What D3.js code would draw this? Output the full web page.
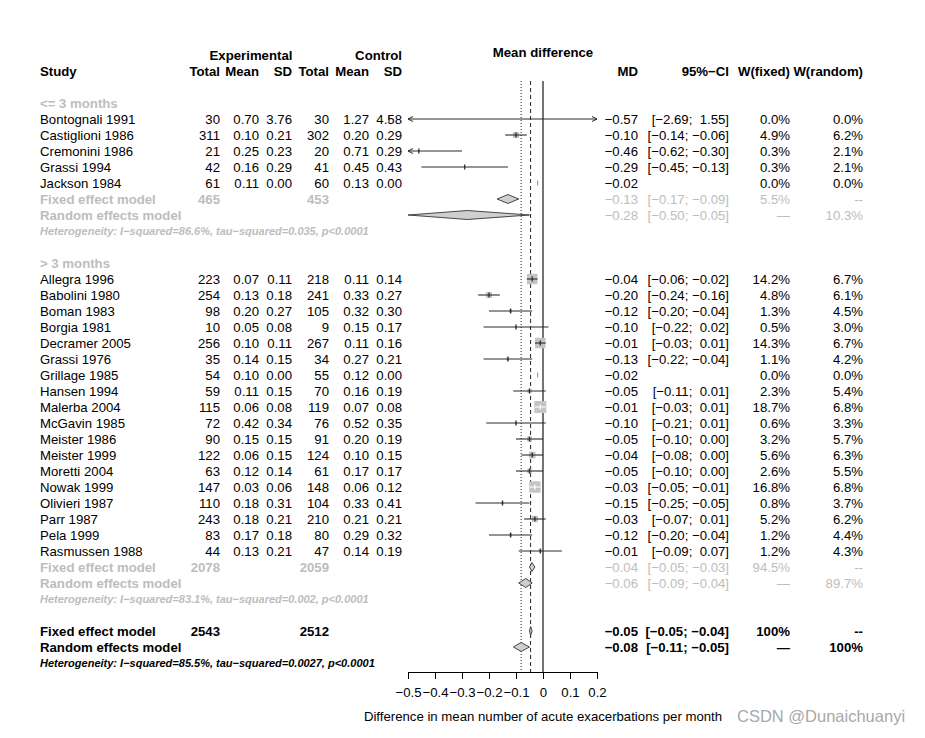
<!DOCTYPE html>
<html><head><meta charset="utf-8">
<script src="https://cdn.jsdelivr.net/npm/d3@7"></script>
<style>
body{margin:0;background:#fff;}
svg text{font-family:"Liberation Sans",Arial,Helvetica,sans-serif;font-size:13.2px;white-space:pre;}
</style></head>
<body><svg id="c" width="925" height="738"></svg>
<script>
// ---------------- data ----------------
const groupLabels = ["<= 3 months", "> 3 months"];
const studyNames = ["Bontognali 1991","Castiglioni 1986","Cremonini 1986","Grassi 1994","Jackson 1984",
  "Allegra 1996","Babolini 1980","Boman 1983","Borgia 1981","Decramer 2005","Grassi 1976","Grillage 1985",
  "Hansen 1994","Malerba 2004","McGavin 1985","Meister 1986","Meister 1999","Moretti 2004","Nowak 1999",
  "Olivieri 1987","Parr 1987","Pela 1999","Rasmussen 1988"];
const studyGroup = [0,0,0,0,0, 1,1,1,1,1,1,1,1,1,1,1,1,1,1,1,1,1,1];
const expTotal = [30,311,21,42,61, 223,254,98,10,256,35,54,59,115,72,90,122,63,147,110,243,83,44];
const expMean  = [0.70,0.10,0.25,0.16,0.11, 0.07,0.13,0.20,0.05,0.10,0.14,0.10,0.11,0.06,0.42,0.15,0.06,0.12,0.03,0.18,0.18,0.17,0.13];
const expSD    = [3.76,0.21,0.23,0.29,0.00, 0.11,0.18,0.27,0.08,0.11,0.15,0.00,0.15,0.08,0.34,0.15,0.15,0.14,0.06,0.31,0.21,0.18,0.21];
const ctlTotal = [30,302,20,41,60, 218,241,105,9,267,34,55,70,119,76,91,124,61,148,104,210,80,47];
const ctlMean  = [1.27,0.20,0.71,0.45,0.13, 0.11,0.33,0.32,0.15,0.11,0.27,0.12,0.16,0.07,0.52,0.20,0.10,0.17,0.06,0.33,0.21,0.29,0.14];
const ctlSD    = [4.58,0.29,0.29,0.43,0.00, 0.14,0.27,0.30,0.17,0.16,0.21,0.00,0.19,0.08,0.35,0.19,0.15,0.17,0.12,0.41,0.21,0.32,0.19];
const md       = [-0.57,-0.10,-0.46,-0.29,-0.02, -0.04,-0.20,-0.12,-0.10,-0.01,-0.13,-0.02,-0.05,-0.01,-0.10,-0.05,-0.04,-0.05,-0.03,-0.15,-0.03,-0.12,-0.01];
const ciLow    = [-2.69,-0.14,-0.62,-0.45,null, -0.06,-0.24,-0.20,-0.22,-0.03,-0.22,null,-0.11,-0.03,-0.21,-0.10,-0.08,-0.10,-0.05,-0.25,-0.07,-0.20,-0.09];
const ciHigh   = [1.55,-0.06,-0.30,-0.13,null, -0.02,-0.16,-0.04,0.02,0.01,-0.04,null,0.01,0.01,0.01,0.00,0.00,0.00,-0.01,-0.05,0.01,-0.04,0.07];
const wFixed   = [0.0,4.9,0.3,0.3,0.0, 14.2,4.8,1.3,0.5,14.3,1.1,0.0,2.3,18.7,0.6,3.2,5.6,2.6,16.8,0.8,5.2,1.2,1.2];
const wRandom  = [0.0,6.2,2.1,2.1,0.0, 6.7,6.1,4.5,3.0,6.7,4.2,0.0,5.4,6.8,3.3,5.7,6.3,5.5,6.8,3.7,6.2,4.4,4.3];

// subgroup summaries
const subExpTotal = [465, 2078];
const subCtlTotal = [453, 2059];
const subFixedMD = [-0.13, -0.041], subFixedLow = [-0.17, -0.05], subFixedHigh = [-0.09, -0.03];
const subRandomMD = [-0.28, -0.064], subRandomLow = [-0.50, -0.09], subRandomHigh = [-0.05, -0.04];
const subFixedW = ["5.5%", "94.5%"], subRandomW = ["10.3%", "89.7%"];
const subHet = ["Heterogeneity: I\u2212squared=86.6%, tau\u2212squared=0.035, p<0.0001",
                "Heterogeneity: I\u2212squared=83.1%, tau\u2212squared=0.002, p<0.0001"];
// overall
const allExpTotal = 2543, allCtlTotal = 2512;
const allFixed = {md: -0.046, lo: -0.05, hi: -0.04, wf: "100%", wr: "--"};
const allRandom = {md: -0.081, lo: -0.11, hi: -0.05, wf: "\u2014", wr: "100%"};
const allHet = "Heterogeneity: I\u2212squared=85.5%, tau\u2212squared=0.0027, p<0.0001";
const axisTicks = [-0.5,-0.4,-0.3,-0.2,-0.1,0,0.1,0.2];
const xLabel = "Difference in mean number of acute exacerbations per month";

// ---------------- drawing ----------------
const svg = d3.select("#c");
svg.append("rect").attr("width",925).attr("height",738).attr("fill","#fff");
const GREY = "#bdbdbd";
const x = d3.scaleLinear().domain([-0.5, 0.2]).range([408, 597]);
const yRow = d3.scaleLinear().domain([0, 35]).range([103, 663]);
const f2 = d3.format(".2f");
const f1 = d3.format(".1f");
const col = {study:40, eT:220, eM:259, eS:292, cT:329, cM:369, cS:402, md:638, ci:729, wf:790, wr:863};

function txt(xp, yp, s, opt={}) {
  return svg.append("text").attr("x", xp).attr("y", yp).attr("dy","0.35em")
    .attr("text-anchor", opt.anchor || "end")
    .attr("font-weight", opt.bold ? "bold" : null)
    .attr("font-style", opt.italic ? "italic" : null)
    .style("font-size", opt.size ? opt.size+"px" : null)
    .attr("fill", opt.fill || "#000").text(s);
}
function ciText(lo, hi) {
  if (lo == null) return "";
  const p = v => (v >= 0 ? " " : "") + f2(v);
  return "[" + p(lo) + "; " + p(hi) + "]";
}

// headers
txt(251, 55, "Experimental", {anchor:"middle", bold:true});
txt(col.cS, 55, "Control", {bold:true});
txt(543, 52, "Mean difference", {anchor:"middle", bold:true});
const hy = 71;
txt(col.study, hy, "Study", {anchor:"start", bold:true});
[["Total",col.eT],["Mean",col.eM],["SD",col.eS],["Total",col.cT],["Mean",col.cM],["SD",col.cS],
 ["MD",col.md],["95%\u2212CI",col.ci],["W(fixed)",col.wf],["W(random)",col.wr]]
  .forEach(([s,c]) => txt(c, hy, s, {bold:true}));

// reference lines
const yTop = 81, yAxis = 672;
svg.append("line").attr("x1",x(0)).attr("x2",x(0)).attr("y1",yTop).attr("y2",yAxis).attr("stroke","#000").attr("stroke-width",1.1);
svg.append("line").attr("x1",x(allFixed.md)).attr("x2",x(allFixed.md)).attr("y1",yTop).attr("y2",yAxis)
  .attr("stroke","#222").attr("stroke-dasharray","4,3");
svg.append("line").attr("x1",x(allRandom.md)).attr("x2",x(allRandom.md)).attr("y1",yTop).attr("y2",yAxis)
  .attr("stroke","#222").attr("stroke-dasharray","1,2");

const boxSize = d3.scaleSqrt().domain([0, d3.max(wFixed)]).range([0, 12.0]);
const [xmin, xmax] = x.domain();

function drawStudy(i, yy) {
  txt(col.study, yy, studyNames[i], {anchor:"start"});
  txt(col.eT, yy, String(expTotal[i])); txt(col.eM, yy, f2(expMean[i])); txt(col.eS, yy, f2(expSD[i]));
  txt(col.cT, yy, String(ctlTotal[i])); txt(col.cM, yy, f2(ctlMean[i])); txt(col.cS, yy, f2(ctlSD[i]));
  txt(col.md, yy, f2(md[i]));
  txt(col.ci, yy, ciText(ciLow[i], ciHigh[i]));
  txt(col.wf, yy, f1(wFixed[i]) + "%");
  txt(col.wr, yy, f1(wRandom[i]) + "%");
  // plot
  const s = boxSize(wFixed[i]);
  const cx = x(md[i]);
  if (md[i] >= xmin && md[i] <= xmax && s > 0)
    svg.append("rect").attr("x", cx - s/2).attr("y", yy - s/2).attr("width", s).attr("height", s).attr("fill", "#c4c4c4");
  let lineCol = "#2a2a2a";
  if (ciLow[i] == null) {
    svg.append("line").attr("x1",cx).attr("x2",cx).attr("y1",yy-2.5).attr("y2",yy+2.5).attr("stroke","#999").attr("stroke-width",1.2);
    return;
  }
  const lo = Math.max(ciLow[i], xmin), hi = Math.min(ciHigh[i], xmax);
  if (x(lo) >= cx - s/2 && x(hi) <= cx + s/2) lineCol = "#fff";
  svg.append("line").attr("x1",x(lo)).attr("x2",x(hi)).attr("y1",yy).attr("y2",yy).attr("stroke",lineCol).attr("stroke-width",1.1);
  svg.append("line").attr("x1",cx).attr("x2",cx).attr("y1",yy-2.5).attr("y2",yy+2.5).attr("stroke",lineCol).attr("stroke-width",1.3);
  if (ciLow[i] < xmin) svg.append("path").attr("d", `M${x(xmin)+5},${yy-2.5}L${x(xmin)},${yy}L${x(xmin)+5},${yy+2.5}`).attr("fill","none").attr("stroke",lineCol);
  if (ciHigh[i] > xmax) svg.append("path").attr("d", `M${x(xmax)-5},${yy-2.5}L${x(xmax)},${yy}L${x(xmax)-5},${yy+2.5}`).attr("fill","none").attr("stroke",lineCol);
}
function diamond(m, lo, hi, yy, h) {
  const l = Math.max(lo, xmin), r = Math.min(hi, xmax);
  svg.append("path").attr("d", `M${x(l)},${yy}L${x(m)},${yy-h}L${x(r)},${yy}L${x(m)},${yy+h}Z`)
    .attr("fill","#cfcfcf").attr("stroke","#333").attr("stroke-width",0.9);
}

let row = 0;
[0,1].forEach(g => {
  txt(col.study, yRow(row), groupLabels[g], {anchor:"start", bold:true, fill:GREY});
  row++;
  studyNames.forEach((n,i) => { if (studyGroup[i] === g) { drawStudy(i, yRow(row)); row++; } });
  let yy = yRow(row);
  txt(col.study, yy, "Fixed effect model", {anchor:"start", bold:true, fill:GREY});
  txt(col.eT, yy, String(subExpTotal[g]), {bold:true, fill:GREY});
  txt(col.cT, yy, String(subCtlTotal[g]), {bold:true, fill:GREY});
  txt(col.md, yy, f2(subFixedMD[g]), {fill:GREY});
  txt(col.ci, yy, ciText(subFixedLow[g], subFixedHigh[g]), {fill:GREY});
  txt(col.wf, yy, subFixedW[g], {fill:GREY});
  txt(col.wr, yy, "--", {fill:GREY});
  diamond(subFixedMD[g], subFixedLow[g], subFixedHigh[g], yy, 4.5);
  row++; yy = yRow(row);
  txt(col.study, yy, "Random effects model", {anchor:"start", bold:true, fill:GREY});
  txt(col.md, yy, f2(subRandomMD[g]), {fill:GREY});
  txt(col.ci, yy, ciText(subRandomLow[g], subRandomHigh[g]), {fill:GREY});
  txt(col.wf, yy, "\u2014", {fill:GREY});
  txt(col.wr, yy, subRandomW[g], {fill:GREY});
  diamond(subRandomMD[g], subRandomLow[g], subRandomHigh[g], yy, 4.5);
  row++; yy = yRow(row);
  txt(col.study, yy, subHet[g], {anchor:"start", bold:true, italic:true, size:11, fill:GREY});
  row += 2;
});
// overall
let yy = yRow(row);
txt(col.study, yy, "Fixed effect model", {anchor:"start", bold:true});
txt(col.eT, yy, String(allExpTotal), {bold:true});
txt(col.cT, yy, String(allCtlTotal), {bold:true});
txt(col.md, yy, f2(allFixed.md), {bold:true});
txt(col.ci, yy, ciText(allFixed.lo, allFixed.hi), {bold:true});
txt(col.wf, yy, allFixed.wf, {bold:true});
txt(col.wr, yy, allFixed.wr, {bold:true});
diamond(allFixed.md, allFixed.lo, allFixed.hi, yy, 4.5);
row++; yy = yRow(row);
txt(col.study, yy, "Random effects model", {anchor:"start", bold:true});
txt(col.md, yy, f2(allRandom.md), {bold:true});
txt(col.ci, yy, ciText(allRandom.lo, allRandom.hi), {bold:true});
txt(col.wf, yy, allRandom.wf, {bold:true});
txt(col.wr, yy, allRandom.wr, {bold:true});
diamond(allRandom.md, allRandom.lo, allRandom.hi, yy, 4.5);
row++; yy = yRow(row);
txt(col.study, yy, allHet, {anchor:"start", bold:true, italic:true, size:11});

// axis
const ax = svg.append("g").attr("transform", `translate(0,${yAxis})`)
  .call(d3.axisBottom(x).tickValues(axisTicks).tickSize(7).tickSizeOuter(0).tickPadding(9).tickFormat(d3.format(".1~f")));
ax.select(".domain").attr("stroke","#000");
ax.selectAll(".tick line").attr("stroke","#000");
ax.selectAll("text").style("font-size","13.2px").attr("fill","#000").attr("font-family",null);
txt(543, 716, xLabel, {anchor:"middle"});
txt(737, 716, "CSDN @Dunaichuanyi", {anchor:"start", size:16.5, fill:"#a8a8a8"});
</script></body></html>
